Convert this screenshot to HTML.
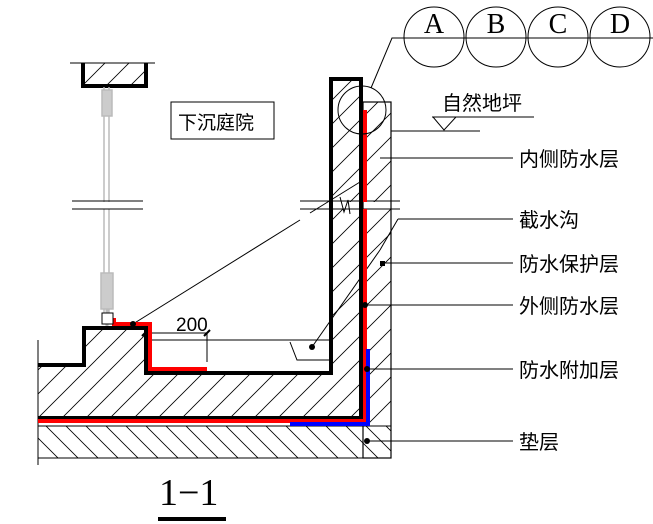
<!DOCTYPE html>
<html><head><meta charset="utf-8"><style>
html,body{margin:0;padding:0;background:#fff;}
svg{display:block}
.s{font-family:"Liberation Sans","Noto Sans CJK SC",sans-serif;}
.r{font-family:"Liberation Serif",serif;}
</style></head><body>
<svg width="653" height="524" viewBox="0 0 653 524" xmlns="http://www.w3.org/2000/svg">
<defs>
<pattern id="h1" width="24" height="24" patternUnits="userSpaceOnUse">
<path d="M-1,25 L25,-1 M-6,6 L6,-6 M18,30 L30,18" stroke="#000" stroke-width="0.8"/></pattern>
<pattern id="h2" width="20" height="20" patternUnits="userSpaceOnUse">
<path d="M-1,-1 L21,21 M-6,14 L6,26 M14,-6 L26,6" stroke="#000" stroke-width="0.8"/></pattern>
</defs>
<path d="M38,365 L83,365 L83,327 L146,327 L146,373 L330,373 L330,78 L362,78 L362,418 L38,418 Z" fill="url(#h1)"/>
<rect x="363" y="102" width="28" height="323" fill="url(#h1)"/>
<rect x="38" y="426" width="353" height="32" fill="url(#h2)"/>
<rect x="300" y="202" width="100" height="7" fill="#fff"/>
<g fill="none" stroke="#000">
<rect x="363" y="102" width="28" height="356" stroke-width="1.2"/>
<line x1="38" y1="426" x2="391" y2="426"/>
<line x1="38" y1="458" x2="391" y2="458"/>
<line x1="38" y1="340" x2="38" y2="465"/>
<path d="M38,365 L84,365 L84,328 L146,328 L146,373 L331,373 L331,79 L361,79 L361,418 L38,418" stroke-width="4"/>
<line x1="300" y1="201" x2="400" y2="201"/><line x1="300" y1="209" x2="400" y2="209"/>
<path d="M340,197 L344,212 L348,200 L350,214" stroke-width="1"/>
<line x1="144" y1="333" x2="207" y2="333"/><line x1="207" y1="333" x2="207" y2="362"/>
<line x1="148" y1="340" x2="330" y2="340"/>
<path d="M290,342 L297,360 L330,360"/>
<line x1="142" y1="336" x2="148" y2="330" stroke-width="2"/>
<line x1="204" y1="336" x2="210" y2="330" stroke-width="2"/>
<line x1="133" y1="324" x2="300" y2="220"/><line x1="310" y1="213" x2="360" y2="182"/>
<line x1="312" y1="347" x2="380" y2="250"/><line x1="380" y1="250" x2="398" y2="219"/>
</g>
<g fill="none" stroke-width="4">
<path d="M114,318 L114,324 L150,324 L150,369 L207,369" stroke="#f00"/>
<line x1="365" y1="110" x2="365" y2="202" stroke="#f00"/>
<path d="M365,209 L365,421 L38,421" stroke="#f00"/>
<path d="M290,424 L368,424 L368,349" stroke="#00f"/>
</g>
<text class="s" x="176" y="331" font-size="19">200</text>
<path d="M83,63 L146,63 L146,86 L83,86 Z" fill="url(#h1)"/>
<path d="M70,63 L155,63" fill="none" stroke="#000" stroke-width="1"/>
<path d="M83,63 L83,86 L146,86 L146,63" fill="none" stroke="#000" stroke-width="4"/>
<g stroke="#bbb" stroke-width="1.5" fill="none">
<line x1="104" y1="87" x2="104" y2="320"/><line x1="109" y1="87" x2="109" y2="320"/>
<rect x="102" y="90" width="10" height="26" fill="#ccc"/>
<rect x="101" y="273" width="12" height="36" fill="#ccc"/>
<line x1="107" y1="309" x2="107" y2="326" stroke-width="3"/>
</g>
<rect x="72" y="202" width="72" height="7" fill="#fff"/>
<line x1="72" y1="201" x2="143" y2="201" stroke="#000"/><line x1="72" y1="209" x2="143" y2="209" stroke="#000"/>
<rect x="102" y="313" width="11" height="11" fill="#fff" stroke="#000"/>
<rect x="171" y="102" width="103" height="37" fill="#fff" stroke="#000"/>
<text class="s" x="178" y="129" font-size="19">下沉庭院</text>
<g fill="none" stroke="#000">
<circle cx="434" cy="37" r="30"/><circle cx="496" cy="37" r="30"/>
<circle cx="558" cy="37" r="30"/><circle cx="620" cy="37" r="30"/>
<path d="M371,88 L392,38 L653,38"/>
<circle cx="362" cy="110" r="24"/>
<line x1="391" y1="131" x2="480" y2="131"/>
<line x1="432" y1="117" x2="534" y2="117"/>
<path d="M433,117 L456,117 L444,130 Z"/>
<line x1="380" y1="158" x2="513" y2="158"/>
<line x1="398" y1="219" x2="513" y2="219"/>
<line x1="382" y1="263" x2="513" y2="263"/>
<line x1="365" y1="305" x2="513" y2="305"/>
<line x1="367" y1="369" x2="513" y2="369"/>
<line x1="367" y1="441" x2="513" y2="441"/>
</g>
<g fill="#000">
<circle cx="312" cy="347" r="3"/><circle cx="133" cy="324" r="3"/>
<rect x="380" y="261" width="5" height="5"/><circle cx="365" cy="305" r="3"/>
<circle cx="367" cy="369" r="3"/><circle cx="367" cy="441" r="3"/>
</g>
<g class="r" font-size="28" text-anchor="middle">
<text x="434" y="33">A</text><text x="496" y="33">B</text>
<text x="558" y="33">C</text><text x="620" y="33">D</text>
</g>
<g class="s" font-size="20">
<text x="442" y="110">自然地坪</text>
<text x="519" y="166">内侧防水层</text>
<text x="519" y="227">截水沟</text>
<text x="519" y="271">防水保护层</text>
<text x="519" y="313">外侧防水层</text>
<text x="519" y="377">防水附加层</text>
<text x="519" y="449">垫层</text>
</g>
<text class="r" x="159" y="505" font-size="38">1−1</text>
<rect x="158" y="517" width="68" height="4" fill="#000"/>
</svg>
</body></html>
